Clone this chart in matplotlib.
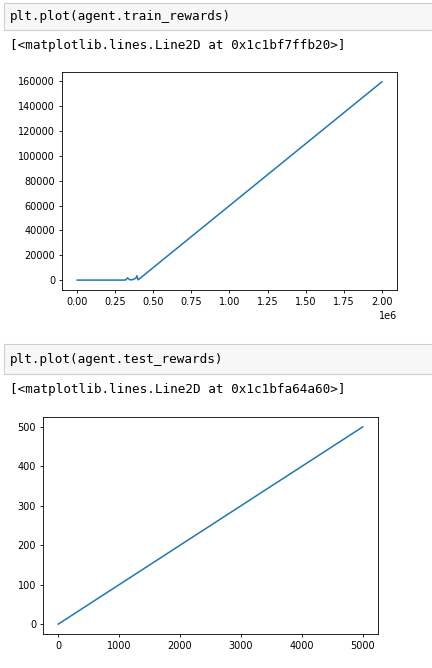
import matplotlib.pyplot as plt
from matplotlib.patches import Rectangle

# cell sources and outputs
code1 = "plt.plot(agent.train_rewards)"
out1 = "[<matplotlib.lines.Line2D at 0x1c1bf7ffb20>]"
code2 = "plt.plot(agent.test_rewards)"
out2 = "[<matplotlib.lines.Line2D at 0x1c1bfa64a60>]"

# train rewards, read as breakpoints of the curve
train_steps = [0, 100000, 200000, 300000, 320000, 330000, 345000, 360000, 385000, 392000, 400000, 2000000]
train_rewards = [0, 0, 0, 0, 200, 1800, 300, 200, 1500, 3500, 200, 159600]

# test rewards
test_steps = [0, 1000, 2000, 3000, 4000, 5000]
test_rewards = [0, 100, 200, 300, 400, 500]

W, H = 432, 668
fig = plt.figure(figsize=(W / 100, H / 100), dpi=100)
fig.patch.set_facecolor("white")

def px(x, y):
    # pixel coords (from top-left) -> figure fraction
    return x / W, 1 - y / H

def cell(y0, y1, code, y_out, out):
    x0, yb = px(4, y1)
    box = Rectangle((x0, yb), 1.0, (y1 - y0) / H, transform=fig.transFigure,
                    facecolor="#f7f7f7", edgecolor="#cfcfcf", linewidth=0.8)
    fig.patches.append(box)
    tx, ty = px(10, (y0 + y1) / 2)
    fig.text(tx, ty, code, family="DejaVu Sans Mono", fontsize=9.1,
             va="center", ha="left", color="#000000")
    ox, oy = px(10, y_out)
    fig.text(ox, oy, out, family="DejaVu Sans Mono", fontsize=9.1,
             va="center", ha="left", color="#000000")

cell(3, 30, code1, 46, out1)
cell(344, 374, code2, 390, out2)

def style(ax):
    for s in ax.spines.values():
        s.set_linewidth(0.6)
    ax.tick_params(labelsize=7, width=0.6, length=2.5, pad=2.5)
    ax.xaxis.get_offset_text().set_fontsize(7)

ax1 = fig.add_axes([62 / W, 1 - 290 / H, 335 / W, 218 / H])
ax1.plot(train_steps, train_rewards, color="#1f77b4", linewidth=1.1)
ax1.set_yticks(range(0, 160001, 20000))
style(ax1)

ax2 = fig.add_axes([43 / W, 1 - 634 / H, 335 / W, 217 / H])
ax2.plot(test_steps, test_rewards, color="#1f77b4", linewidth=1.1)
style(ax2)

fig.savefig("out.png", dpi=100)
